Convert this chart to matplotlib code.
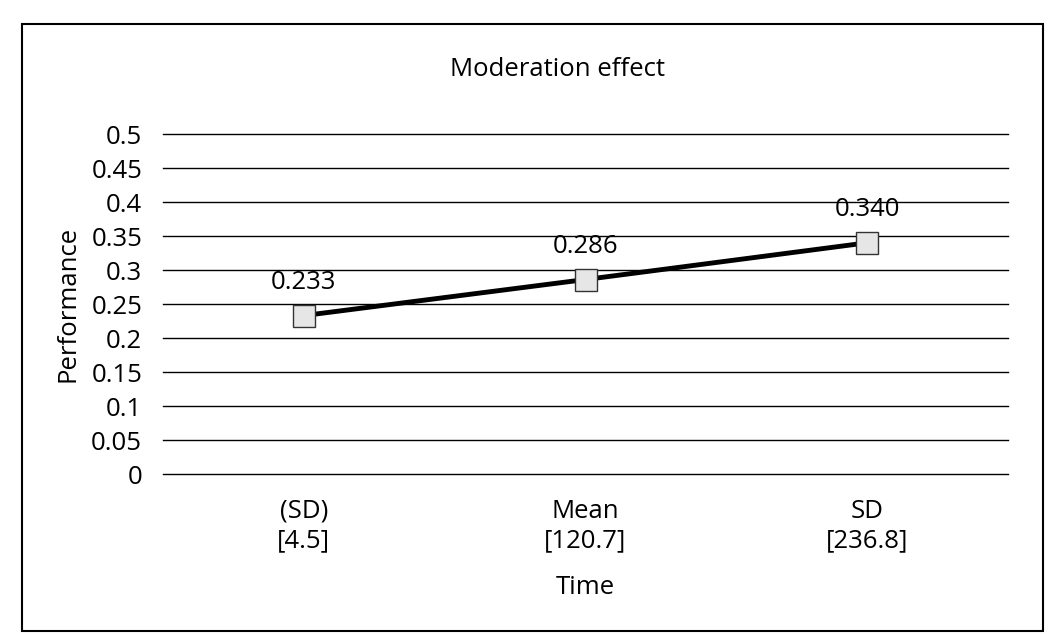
import matplotlib.pyplot as plt
from matplotlib.patches import Rectangle

# data
categorias = ['(SD)\n[4.5]', 'Mean\n[120.7]', 'SD\n[236.8]']
valores = [0.233, 0.286, 0.340]
etiquetas = ['0.233', '0.286', '0.340']
yticks = [0, 0.05, 0.1, 0.15, 0.2, 0.25, 0.3, 0.35, 0.4, 0.45, 0.5]
ytick_labels = ['0', '0.05', '0.1', '0.15', '0.2', '0.25', '0.3', '0.35', '0.4', '0.45', '0.5']

plt.rcParams['font.family'] = ['Open Sans', 'DejaVu Sans']
fs = 18.5

fig = plt.figure(figsize=(10.54, 6.34), dpi=100)
W, H = 1054, 634

# marco exterior
fig.patches.append(Rectangle((22 / W, 1 - 631 / H), (1043 - 22) / W, (631 - 24) / H,
                             transform=fig.transFigure, fill=False, edgecolor='black', lw=1.5))

ax = fig.add_axes([163 / W, 1 - 474 / H, (1008 - 163) / W, (474 - 134) / H])
x = list(range(len(categorias)))
ax.plot(x, valores, color='black', lw=3.5, marker='s', markersize=16,
        markerfacecolor='#e6e6e6', markeredgecolor='#333333', markeredgewidth=1, zorder=3)
for xi, v, t in zip(x, valores, etiquetas):
    ax.annotate(t, (xi, v), xytext=(0, 24), textcoords='offset points',
                ha='center', va='center', fontsize=fs, zorder=4)

ax.set_xlim(-0.5, 2.5)
ax.set_ylim(0, 0.5)
ax.set_yticks(yticks)
ax.set_yticklabels(ytick_labels, fontsize=fs)
ax.set_xticks(x)
ax.set_xticklabels(categorias, fontsize=fs, linespacing=1.2)
ax.tick_params(length=0)
ax.tick_params(axis='y', pad=15)
ax.tick_params(axis='x', pad=18)
ax.grid(axis='y', color='black', lw=1)
for gl in ax.get_ygridlines():
    gl.set_clip_on(False)
ax.set_axisbelow(True)
for s in ax.spines.values():
    s.set_visible(False)

ax.set_ylabel('Performance', fontsize=fs, labelpad=8)
ax.set_xlabel('Time', fontsize=fs, labelpad=16)
fig.text(557 / W, 1 - 70 / H, 'Moderation effect', ha='center', va='center', fontsize=fs)

fig.savefig('out.png', dpi=100)
